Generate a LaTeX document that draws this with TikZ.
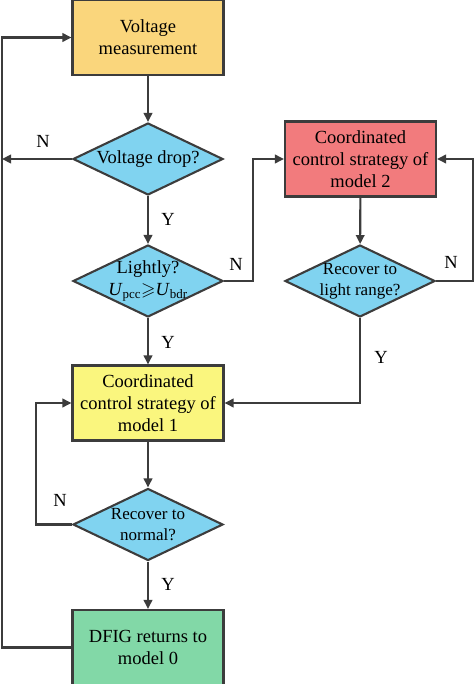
\documentclass[tikz,border=0pt]{standalone}
\usepackage{amssymb}
\usepackage{fontspec}
\setmainfont{Liberation Serif}
\usetikzlibrary{shapes.geometric,arrows.meta}
\definecolor{lc}{HTML}{3C3C3C}
\definecolor{corange}{HTML}{FAD67C}
\definecolor{cred}{HTML}{F27B7D}
\definecolor{cblue}{HTML}{80D3F0}
\definecolor{cyel}{HTML}{FAF67E}
\definecolor{cgreen}{HTML}{82D8A7}
\tikzset{
  box/.style={draw=lc, line width=2.1pt, rectangle, minimum width=151pt, minimum height=75pt, align=center, inner sep=0pt, font=\fontsize{18.5}{22}\selectfont},
  dia/.style={draw=lc, line width=2.1pt, diamond, fill=cblue, minimum width=150pt, minimum height=72pt, inner sep=0pt},
  dtext/.style={align=center, font=\fontsize{18.5}{22}\selectfont},
  conn/.style={draw=lc, line width=2.1pt},
  arr/.style={conn, -{Triangle[length=9pt,width=8.5pt]}},
  lab/.style={font=\fontsize{18.5}{22}\selectfont, inner sep=0pt}
}
\begin{document}
\begin{tikzpicture}[x=1pt,y=-1pt]
\useasboundingbox (0,0) rectangle (474,684);
\node[box, fill=corange] (vm) at (148,37.5) {Voltage\\measurement};
\node[dia, label={[dtext]center:Voltage drop?}] (d1) at (148,159) {};
\node[box, fill=cred] (red) at (360.5,159) {Coordinated\\control strategy of\\model 2};
\node[dia, label={[dtext]center:{Lightly?\\\textit{U}\textsubscript{pcc}$\geqslant$\textit{U}\textsubscript{bdr}}}] (d2) at (148,281) {};
\node[dia, label={[dtext, font=\fontsize{17}{21}\selectfont]center:{Recover to\\light range?}}] (d3) at (360,281) {};
\node[box, fill=cyel] (yel) at (148,403) {Coordinated\\control strategy of\\model 1};
\node[dia, label={[dtext, font=\fontsize{17}{21}\selectfont]center:{Recover to\\normal?}}] (d4) at (148,524.5) {};
\node[box, fill=cgreen] (grn) at (148,647.5) {DFIG returns to\\model 0};

\coordinate (nl) at (2,159);
\coordinate (c2) at (253,281);
\coordinate (c3) at (473,281);
\coordinate (c4) at (36,524.5);
\coordinate (c5) at (2,647.5);

\draw[arr] (vm) -- (d1);
\draw[arr] (d1.west) -- (nl);
\draw[arr] (d1) -- (d2);
\draw[arr] (d2.east) -- (c2) |- (red.west);
\draw[arr] (red) -- (d3);
\draw[arr] (d3.east) -- (c3) |- (red.east);
\draw[arr] (d3.south) |- (yel.east);
\draw[arr] (d2) -- (yel);
\draw[arr] (yel) -- (d4);
\draw[arr] (d4.west) -- (c4) |- (yel.west);
\draw[arr] (d4) -- (grn);
\draw[arr] (grn.west) -- (c5) |- (vm.west);

\node[lab] (n1) at (43,141) {N};
\node[lab] (y1) at (168,219) {Y};
\node[lab] (n2) at (236,264) {N};
\node[lab] (n3) at (451,262) {N};
\node[lab] (y2) at (168,342) {Y};
\node[lab] (y3) at (381,357) {Y};
\node[lab] (n4) at (60,500) {N};
\node[lab] (y4) at (168,584) {Y};
\end{tikzpicture}
\end{document}
